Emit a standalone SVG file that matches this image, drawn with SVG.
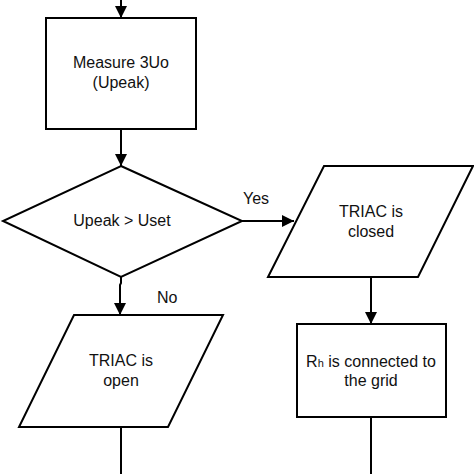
<svg xmlns="http://www.w3.org/2000/svg" width="474" height="474" viewBox="0 0 474 474">
<style>
.shape{fill:#fff;stroke:#000;stroke-width:2}
.line{fill:none;stroke:#000;stroke-width:2}
text{font-family:"Liberation Sans",Arial,sans-serif;font-size:16px;fill:#111;text-anchor:middle}
.lbl{text-anchor:start}
</style>
<defs>
<marker id="arr" markerWidth="12" markerHeight="12" refX="12" refY="6" orient="auto" markerUnits="userSpaceOnUse">
<path d="M0,0 L12,6 L0,12 Z" fill="#000"/>
</marker>
</defs>
<g id="connectors">
<line class="line" x1="121" y1="0" x2="121" y2="18" marker-end="url(#arr)"/>
<line class="line" x1="121" y1="129" x2="121" y2="166" marker-end="url(#arr)"/>
<line class="line" x1="242" y1="221" x2="294" y2="221" marker-end="url(#arr)"/>
<path class="line" d="M121,277 L121,283 L120,285 L120,315" marker-end="url(#arr)"/>
<line class="line" x1="371" y1="277" x2="371" y2="324" marker-end="url(#arr)"/>
<line class="line" x1="121" y1="427" x2="121" y2="474"/>
<line class="line" x1="371" y1="417" x2="371" y2="474"/>
<text class="lbl" x="243" y="204">Yes</text>
<text class="lbl" x="157" y="303">No</text>
</g>
<g id="measure">
<rect class="shape" x="46" y="18" width="150" height="111"/>
<text x="121" y="68">Measure 3Uo</text>
<text x="121" y="88">(Upeak)</text>
</g>
<g id="decision">
<polygon class="shape" points="121,166 242,221 121,277 3,221"/>
<text x="122" y="226">Upeak &gt; Uset</text>
</g>
<g id="triac-closed">
<polygon class="shape" points="324,166 473,166 418,277 268,277"/>
<text x="371" y="217">TRIAC is</text>
<text x="371" y="237">closed</text>
</g>
<g id="triac-open">
<polygon class="shape" points="74,315 223,315 168,427 19,427"/>
<text x="121" y="366">TRIAC is</text>
<text x="121" y="386">open</text>
</g>
<g id="rh-connected">
<rect class="shape" x="297" y="324" width="149" height="93"/>
<text x="371" y="367">R<tspan font-size="11">h</tspan> is connected to</text>
<text x="371" y="386">the grid</text>
</g>
</svg>
